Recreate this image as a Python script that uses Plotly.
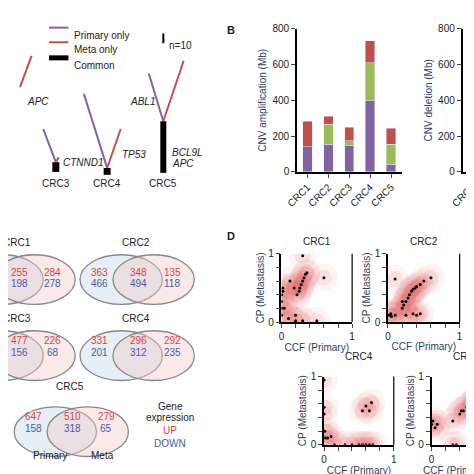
import plotly.graph_objects as go

W = H = 474
def px(x): return x / W
def py(y): return 1 - y / H

PURPLE, RED, GREEN = "#8064a2", "#c0504d", "#9bbb59"
FONT = "Liberation Sans"

# ---- Panel B data
samples = ["CRC1", "CRC2", "CRC3", "CRC4", "CRC5"]
amp_primary = [140, 155, 148, 398, 43]
amp_common = [0, 110, 25, 212, 112]
amp_meta = [143, 45, 77, 123, 88]
del_primary = [148]
del_meta = [20]

# ---- Panel C data (UP / DOWN counts: primary only, common, meta only)
venn_names = ["CRC1", "CRC2", "CRC3", "CRC4", "CRC5"]
venn_up = [[255, 255, 284], [363, 348, 135], [477, 477, 226], [331, 296, 292], [647, 510, 279]]
venn_down = [[198, 198, 278], [466, 494, 118], [156, 156, 68], [201, 312, 235], [158, 318, 65]]

# ---- Panel D data (CCF primary, CP metastasis)
d1x = [0.0, 0.0, 0.02, 0.02, 0.0, 0.04, 0.1, 0.2, 0.22, 0.25, 0.26, 0.28, 0.3, 0.32, 0.34, 0.36, 0.18, 0.2, 0.3, 0.5, 0.6, 0.3, 0.12, 0.0]
d1y = [0.3, 0.4, 0.5, 0.45, 0.2, 0.2, 0.05, 0.02, 0.4, 0.45, 0.5, 0.55, 0.6, 0.65, 0.7, 0.72, 0.5, 0.1, 0.02, 0.02, 0.65, 0.97, 0.6, 0.1]
d2x = [0.02, 0.04, 0.05, 0.1, 0.2, 0.22, 0.25, 0.28, 0.3, 0.33, 0.35, 0.38, 0.4, 0.45, 0.5, 0.6, 0.25, 0.35, 0.4, 0.45, 0.1, 0.2]
d2y = [0.1, 0.12, 0.08, 0.1, 0.2, 0.25, 0.3, 0.35, 0.4, 0.45, 0.48, 0.5, 0.52, 0.55, 0.6, 0.65, 0.1, 0.12, 0.1, 0.12, 0.63, 0.3]
d4x = [0.0, 0.0, 0.0, 0.01, 0.02, 0.05, 0.1, 0.15, 0.3, 0.4, 0.5, 0.55, 0.6, 0.65, 0.7, 0.55, 0.6, 0.65, 0.68]
d4y = [0.95, 0.55, 0.45, 0.2, 0.1, 0.1, 0.12, 0.0, 0.0, 0.0, 0.0, 0.0, 0.0, 0.0, 0.0, 0.5, 0.57, 0.5, 0.62]
d5x = [0.0, 0.02, 0.05, 0.08, 0.3, 0.35, 0.4, 0.45, 0.5, 0.55, 0.6, 0.62, 0.65, 0.7, 0.42, 0.3]
d5y = [0.3, 0.35, 0.25, 0.3, 0.0, 0.0, 0.45, 0.5, 0.55, 0.6, 0.62, 0.65, 0.7, 0.75, 0.5, 0.35]
d_ticks = [0, 0.2, 0.4, 0.6, 0.8, 1]
d_ticktext = ["0", "", "", "", "", "1"]

fig = go.Figure()
for vals, col in [(amp_primary, PURPLE), (amp_common, GREEN), (amp_meta, RED)]:
    fig.add_trace(go.Bar(x=samples, y=vals, marker_color=col, width=0.45, xaxis="x", yaxis="y", showlegend=False))
for vals, col in [(del_primary, PURPLE), (del_meta, "#e07050")]:
    fig.add_trace(go.Bar(x=samples[:1], y=vals, marker_color=col, width=0.5, xaxis="x2", yaxis="y2", showlegend=False))

ax = dict(showline=True, linecolor="black", linewidth=1.5, ticks="outside", ticklen=4, showgrid=False,
          zeroline=False, tickfont=dict(size=10, family=FONT, color="#222"))
fig.update_layout(barmode="stack")
fig.update_layout(
    xaxis=dict(ax, domain=[px(286), px(394)], anchor="y", tickangle=-45),
    yaxis=dict(ax, domain=[py(162), py(15)], anchor="x", range=[0, 800], dtick=200,
               title=dict(text="CNV amplification (Mb)", font=dict(size=10, family=FONT), standoff=4)),
    xaxis2=dict(ax, domain=[px(457), 1], anchor="y2", tickangle=-45, range=[-0.6, 0.45]),
    yaxis2=dict(ax, domain=[py(162), py(15)], anchor="x2", range=[0, 800], dtick=200,
                title=dict(text="CNV deletion (Mb)", font=dict(size=10, family=FONT), standoff=4)),
)

shapes, ann = [], []
def A(x, y, t, size=10, color="#222", italic=False, bold=False, xanchor="center", angle=0):
    if italic: t = f"<i>{t}</i>"
    if bold: t = f"<b>{t}</b>"
    ann.append(dict(x=px(x), y=py(y), xref="paper", yref="paper", text=t, showarrow=False, xanchor=xanchor,
                    textangle=angle, font=dict(size=size, family=FONT, color=color)))

def L(x0, y0, x1, y1, color, w):
    shapes.append(dict(type="line", xref="paper", yref="paper", x0=px(x0), y0=py(y0), x1=px(x1), y1=py(y1),
                       line=dict(color=color, width=w)))

# Panel D scatters: (x of 0, x of 1, y of 1, y of 0)
dpanels = [("3", 270, 343, 246, 316, d1x, d1y, "CRC1"),
           ("4", 380, 454, 246, 316, d2x, d2y, "CRC2"),
           ("5", 314, 386, 372, 442, d4x, d4y, "CRC4"),
           ("6", 425, 498, 372, 442, d5x, d5y, "CRC5")]
for n, x0, x1, yt, yb, xs, ys, t in dpanels:
    for size, alpha in [(28, 0.05), (16, 0.09)]:
        fig.add_trace(go.Scatter(x=xs, y=ys, mode="markers", xaxis="x" + n, yaxis="y" + n, showlegend=False,
                                 marker=dict(size=size, color=f"rgba(225,40,40,{alpha})", line=dict(width=0))))
    fig.add_trace(go.Scatter(x=xs, y=ys, mode="markers", xaxis="x" + n, yaxis="y" + n, showlegend=False,
                             marker=dict(size=3, color="black")))
    x1c = min(x1, W)
    xmax = (x1c - x0) / (x1 - x0)
    fig.layout["xaxis" + n] = dict(ax, domain=[px(x0), px(x1c)], anchor="y" + n, range=[0, xmax],
                                   tickvals=d_ticks, ticktext=d_ticktext,
                                   title=dict(text="CCF (Primary)", font=dict(size=10, family=FONT), standoff=2))
    fig.layout["yaxis" + n] = dict(ax, domain=[py(yb), py(yt)], anchor="x" + n, range=[0, 1],
                                   tickvals=d_ticks, ticktext=d_ticktext,
                                   title=dict(text="CP (Metastasis)", font=dict(size=10, family=FONT), standoff=2))
    if x1 <= W:
        L(x1, yt, x1, yb, "black", 1.2)
    A((x0 + x1) / 2, yt - 13, t)
A(470, 282, "CP (Metastasis)", angle=-90)

# Panel A
L(30, 14, 50, 14, PURPLE, 2); A(54, 14, "Primary only", xanchor="left")
L(30, 29, 50, 29, RED, 2); A(54, 29, "Meta only", xanchor="left")
L(30, 45, 50, 45, "black", 5); A(54, 45, "Common", xanchor="left")
L(148, 20, 148, 30, "black", 2); A(152, 25, "n=10", xanchor="left")
L(12, 43, 0, 75, RED, 2); A(5, 82, "APC", italic=True, xanchor="left")
L(37, 152, 37, 162, "black", 7); L(37, 152, 24, 118, PURPLE, 2); L(37, 152, 40, 147, RED, 2)
A(42, 145, "CTNND1", italic=True, xanchor="left"); A(37, 174, "CRC3")
L(90, 158, 90, 165, "black", 7); L(90, 158, 66, 82, PURPLE, 2); L(90, 158, 104, 118, RED, 2)
A(103, 136, "TP53", italic=True, xanchor="left"); A(90, 174, "CRC4")
L(148, 110, 148, 163, "black", 6); L(148, 110, 133, 61, PURPLE, 2); L(148, 110, 169, 48, RED, 2)
A(112, 82, "ABL1", italic=True, xanchor="left"); A(155, 134, "BCL9L", italic=True, xanchor="left")
A(155, 146, "APC", italic=True, xanchor="left"); A(148, 174, "CRC5")
A(218, 8, "B", size=11, bold=True); A(218, 228, "D", size=11, bold=True)

# Panel C Venn
venn_pos = [(-123, 0), (0, 0), (-123, 78), (0, 78), (-68, 156)]
for (dx, dy), name, up, dn in zip(venn_pos, venn_names, venn_up, venn_down):
    y0, y1 = 247 + dy, 298 + dy
    shapes.append(dict(type="circle", xref="paper", yref="paper", x0=px(62 + dx), x1=px(147 + dx), y0=py(y1), y1=py(y0),
                       fillcolor="rgba(200,220,232,0.45)", line=dict(color="#888", width=1.3)))
    shapes.append(dict(type="circle", xref="paper", yref="paper", x0=px(96 + dx), x1=px(180 + dx), y0=py(y1), y1=py(y0),
                       fillcolor="rgba(240,200,200,0.40)", line=dict(color="#888", width=1.3)))
    A(120 + dx, 234 + dy, name)
    for xx, u, d in zip([82, 122, 157], up, dn):
        A(xx + dx, 265 + dy, str(u), color="#e0404a")
        A(xx + dx, 277 + dy, str(d), color="#4a5aa8")
A(31, 461, "Primary"); A(85, 461, "Meta")
A(155, 410, "Gene"); A(155, 422, "expression"); A(155, 435, "UP", color="#e0404a"); A(155, 448, "DOWN", color="#4a5aa8")

fig.update_layout(width=W, height=H, margin=dict(l=0, r=0, t=0, b=0), plot_bgcolor="white",
                  paper_bgcolor="white", shapes=shapes, annotations=ann, font=dict(family=FONT))
fig.write_html("out.html")
